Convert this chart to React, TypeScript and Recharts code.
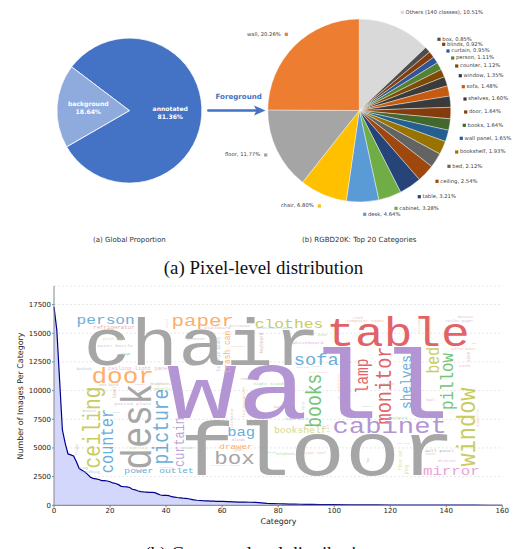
import React from "react";
import { PieChart, Pie, Cell, AreaChart, Area, XAxis, YAxis, CartesianGrid } from "recharts";

const SANS = "'DejaVu Sans', sans-serif";
const MONO = "'Liberation Mono', monospace";
const SERIF = "'Liberation Serif', serif";

// global proportion
const globalNames = ["annotated", "background"];
const globalValues = [81.36, 18.64];
const globalColors = ["#4472c4", "#8faadc"];
const globalLabelPos = [[170.3, 109.5, 117], [88.3, 104.3, 112]];

// top 20 categories, clockwise from 12 o'clock
const catNames = [
    "Others (140 classes)", "box", "blinds", "curtain", "person", "counter", "window", "sofa", "shelves", "door",
    "books", "wall panel", "bookshelf", "bed", "ceiling", "table", "cabinet", "desk", "chair", "floor", "wall",
];
const catValues = [10.51, 0.85, 0.92, 0.95, 1.11, 1.12, 1.35, 1.48, 1.60, 1.64, 1.64, 1.65, 1.93, 2.12, 2.54, 3.21, 3.28, 4.64, 6.80, 11.77, 20.26];
const catColors = [
    "#d9d9d9", "#4e4e4e", "#843c0c", "#2f5597", "#548235", "#7f4a06", "#3b3b3b", "#c55a11", "#3a3a3a", "#843c0c",
    "#43682b", "#255e91", "#997300", "#636363", "#9e480e", "#264478", "#70ad47", "#5b9bd5", "#ffc000", "#a5a5a5", "#ed7d31",
];
// square x, y for every label; text sits right of it, except the last three which sit left
const catLabelPos = [
    [402.3, 12.3], [439, 39.3], [443.7, 44.3], [448, 51], [452.7, 58], [456.7, 66], [460.3, 75.7], [463.3, 86.7], [465, 99], [465.7, 112],
    [464.3, 125.3], [461.3, 138.3], [456.7, 152], [449, 166.3], [437, 181.3], [419.3, 196.7], [396, 208.3], [364.7, 214.3], [319.3, 206], [265.7, 155], [286.3, 34.3],
];

// images per category, long tail
const rankX = [
    0, 1, 2, 3, 4, 5, 6, 7, 8, 9, 10, 11, 12, 13, 14, 15, 16, 17, 18, 19, 20, 21, 22, 23, 24, 25, 26, 27, 28, 29,
    30, 31, 32, 33, 34, 35, 36, 37, 38, 39, 40, 41, 42, 43, 44, 45, 46, 47, 48, 49, 50, 51, 52, 53, 54, 55, 56, 57, 58, 59,
    60, 62, 64, 66, 68, 70, 72, 74, 76, 78, 80, 82, 84, 86, 88, 90, 92, 95, 98, 100, 105, 110, 115, 120, 125, 130, 135, 140, 145, 150, 155, 160,
];
const imageCounts = [
    17300, 15300, 10900, 6570, 5400, 4480, 4400, 4300, 3800, 3200, 3050, 2900, 2700, 2450, 2350, 2300, 2250, 2150, 2150, 2120,
    2050, 1950, 1900, 1800, 1650, 1620, 1600, 1550, 1400, 1350, 1250, 1200, 1170, 1150, 1130, 1120, 1100, 1000, 900, 870,
    860, 840, 750, 720, 680, 650, 620, 600, 570, 520, 470, 440, 420, 400, 390, 380, 370, 360, 350, 340,
    335, 320, 300, 285, 275, 265, 250, 215, 175, 150, 135, 120, 110, 100, 90, 85, 75, 70, 60, 55, 45, 38, 32, 26, 22, 18, 15, 12, 10, 8, 6, 5,
];
const yTicks = [0, 2500, 5000, 7500, 10000, 12500, 15000, 17500];
const xTicks = [0, 20, 40, 60, 80, 100, 120, 140, 160];

// word cloud: text, x, y, ink length along text, vertical, colour
const GRAY = "#a6a6a6", PURPLE = "#b495d3", RED = "#e26367", BLUE = "#6baed6", ORANGE = "#fdae6b", OLIVE = "#c9cc5f", GREEN = "#74c476", PINK = "#e9a3d6";
const cloudPlacement: [string, number, number, number, boolean, string][] = [
    ["wall", 172, 418, 272, false, PURPLE],
    ["floor", 185, 475, 265, false, GRAY],
    ["chair", 88, 365, 228, false, GRAY],
    ["table", 329, 345.7, 138, false, RED],
    ["desk", 151, 468, 83, true, GRAY],
    ["ceiling", 100, 467, 79, true, OLIVE],
    ["counter", 113, 472, 62, true, BLUE],
    ["picture", 168, 463, 73, true, BLUE],
    ["curtain", 184, 466, 48, true, "#bba3d8"],
    ["person", 77.7, 324, 56, false, BLUE],
    ["paper", 172.7, 325.7, 60, false, ORANGE],
    ["clothes", 256, 328.3, 66, false, OLIVE],
    ["door", 92.7, 382.7, 60, false, ORANGE],
    ["sofa", 294.7, 365, 43.3, false, BLUE],
    ["books", 320.7, 426.7, 52, true, GREEN],
    ["lamp", 368, 393, 34, true, RED],
    ["monitor", 390.7, 423, 75, true, RED],
    ["shelves", 410.7, 408, 52, true, BLUE],
    ["bed", 438.7, 373, 25.6, true, OLIVE],
    ["pillow", 453, 409, 55, true, GREEN],
    ["window", 474.7, 465, 76, true, OLIVE],
    ["cabinet", 334.7, 433.3, 110, false, PURPLE],
    ["mirror", 424, 475, 54.7, false, PINK],
    ["bookshelf", 275, 432.7, 50.7, false, "#d4d68a"],
    ["bag", 227.7, 436, 27, false, BLUE],
    ["drawer", 220, 449, 32, false, ORANGE],
    ["box", 215, 464.3, 39, false, GRAY],
    ["power outlet", 125.7, 473.3, 67, false, BLUE],
    ["trash can", 230, 372.7, 41, true, ORANGE],
    ["ceiling light panel", 109.3, 369.5, 60.7, false, "#e8a8c8"],
    ["refrigerator", 94, 328.7, 40, false, "#e39a9a"],
    ["plush toys", 103.3, 340, 21, false, "#d4d68a"],
    ["water bottle", 98.3, 346.7, 34, false, "#c9b3e0"],
    ["cup", 121, 355, 9, false, "#5fc4d0"],
    ["bathtub", 76.7, 370, 14.3, false, "#8fb5d8"],
    ["towel", 116, 398, 11, true, "#e39a7a"],
    ["hanger", 135, 385, 10, false, "#e0a0c8"],
    ["note board", 99.3, 386, 18.7, false, "#c8a8a8"],
    ["headphones", 150.7, 385, 19.3, false, "#aaaaaa"],
    ["umbrella", 154, 389.5, 16, false, "#c9cc5f"],
    ["potted plant", 115, 405, 36, false, "#c9b3e0"],
    ["bench", 82.7, 412.3, 13, false, "#b5b5b5"],
    ["tray", 113, 412.7, 7, false, "#9fc0dc"],
    ["flower", 78.3, 455, 12, true, "#b5b5b5"],
    ["light bulb", 129, 448.7, 18, false, "#d4d68a"],
    ["speaker", 180.7, 448.7, 13.3, false, "#8fcf90"],
    ["landline", 160, 467.7, 12.7, false, "#b5b5b5"],
    ["projector screen", 211.7, 466, 27.3, false, "#e6b5d8"],
    ["pan", 235, 451, 7, false, "#b5b5b5"],
    ["blinds", 232, 440.7, 13, false, "#bba3d8"],
    ["fire extinguisher", 245, 417, 30, true, "#e8a080"],
    ["dishwasher", 233, 427, 19, true, "#d0b8c8"],
    ["stool", 168, 328, 9, true, "#e6b5d8"],
    ["blackboard", 205, 328.7, 25, false, "#e6a8a8"],
    ["microwave", 230, 327, 20, false, "#c0c0c0"],
    ["printer", 187.7, 340, 17.3, false, "#b5b5b5"],
    ["calendar", 231, 347.3, 14, false, "#f0b890"],
    ["bulletin board", 220, 370, 32, true, "#9fc0dc"],
    ["remote", 240.7, 380, 12, false, "#d0b0c0"],
    ["keyboard", 262.6, 353, 20, true, "#c4a898"],
    ["surveillance camera", 256.7, 329, 35, false, "#8fc8d8"],
    ["oven", 318, 335.7, 9, false, "#a8cf90"],
    ["whiteboard", 293, 344.3, 30, false, "#d8a8d8"],
    ["paper cups", 296, 368.3, 13, false, "#b5b5b5"],
    ["toaster", 312.7, 366.7, 9, false, "#b5b5b5"],
    ["light switch", 308, 373.3, 18.7, false, "#f0b890"],
    ["night stand", 254, 385, 29.3, false, "#8fcf90"],
    ["air conditioner", 340, 400, 27, true, "#f5c8a0"],
    ["laptop", 304, 410, 8, true, "#a8b8c8"],
    ["hat", 274, 407.7, 6, false, "#f0a070"],
    ["clock", 353, 318.7, 10, false, "#e6a8a8"],
    ["computer tower", 347.3, 321.7, 36.7, false, "#f0b890"],
    ["ottoman", 419.7, 333, 13, true, "#d4d68a"],
    ["television", 431.3, 338, 21, true, "#d4d68a"],
    ["mouse", 458, 318.3, 15, false, "#e0b0e0"],
    ["toilet paper", 446, 322.3, 27, false, "#c9b3e0"],
    ["tap", 472.3, 344, 4, false, "#c0a890"],
    ["coffee maker", 451.3, 350, 24, false, "#f0b890"],
    ["vase", 470.3, 361.7, 9.4, true, "#e6a8a8"],
    ["sink", 458.7, 367.3, 11.6, false, "#e6a8d8"],
    ["socket", 380, 385, 14, false, "#8fcf90"],
    ["bottle", 362, 406.7, 10.3, false, "#b5b5b5"],
    ["bowl", 426.3, 401, 8.4, false, "#e6a8d8"],
    ["backpack", 389.3, 419, 18, false, "#8fcf90"],
    ["liquor bottle", 285, 420, 23.3, false, "#8fb5d8"],
    ["plate", 329, 432, 7, true, "#c0c0c0"],
    ["dumbbells", 479, 426.7, 17.4, true, "#f0c0a8"],
    ["hot pot", 396.7, 444.3, 12.3, false, "#e6a8d8"],
    ["wall panel", 425.7, 451.7, 27.6, false, "#b09a90"],
    ["shoes", 425.7, 455, 10, false, "#f0b890"],
    ["dresser", 438.3, 461.7, 18.4, false, "#e6a8d8"],
    ["floor mat", 402.3, 470, 20, true, "#d4d68a"],
    ["plug", 408.3, 474, 9, true, "#d4d68a"],
    ["fan", 369, 463, 5, true, "#b5b5b5"],
    ["paper towel", 306, 454.3, 19.7, false, "#f0b890"],
    ["telephone", 276, 455, 18, false, "#8fcf90"],
    ["stand", 267.7, 453.3, 8.3, false, "#7fd0c8"],
    ["handbag", 79.3, 473, 20, false, "#a8c8e8"],
    ["rug", 79, 469, 9, false, "#b5b5b5"],
];
const STRETCH = 1.2;

const globalData = globalNames.map((name, i) => ({ name, value: globalValues[i] }));
const catData = catNames.map((name, i) => ({ name, value: catValues[i] }));
const rankData = rankX.map((rank, i) => ({ rank, count: imageCounts[i] }));

const pct = (v: number) => v.toFixed(2) + "%";

function GlobalLabel(props: any) {
    const { index, name, value } = props;
    const [x, y1, y2] = globalLabelPos[index];
    return <g fontFamily={SANS} fontSize={6.1} fontWeight="bold" fill="#fff" textAnchor="middle">
        <text x={x} y={y1} dominantBaseline="middle">{name}</text>
        <text x={x} y={y2} dominantBaseline="middle">{pct(value)}</text>
    </g>;
}

function CatLabel(props: any) {
    const { index, name, value } = props;
    const [x, y] = catLabelPos[index];
    const onLeft = index >= catNames.length - 3;
    return <g fontFamily={SANS} fontSize={5.25} fill="#404040">
        <rect x={x - 1.6} y={y - 1.6} width={3.2} height={3.2} fill={catColors[index]} />
        <text x={onLeft ? x - 5.5 : x + 3.3} y={y} dominantBaseline="middle" textAnchor={onLeft ? "end" : "start"}>
            {name}, {pct(value)}
        </text>
    </g>;
}

function WordCloud() {
    return <g fontFamily={MONO}>
        {cloudPlacement.map(([word, x, y, ink, vertical, color]) => {
            // ink lengths were measured, the font's cells run a little wider
            const len = ink * 1.04;
            const pad = ink * 0.02;
            const adv = word.length * 0.6;
            const size = vertical ? len / adv : len / (adv * STRETCH);
            const t = vertical
                ? `translate(${x},${y + pad}) scale(${STRETCH},1) rotate(-90)`
                : `translate(${x - pad},${y}) scale(${STRETCH},1)`;
            return <text key={word} transform={t} fontSize={size} fill={color}
                opacity={size < 6 ? 0.8 : 1}>{word}</text>;
        })}
    </g>;
}

export default function App() {
    const layer: React.CSSProperties = { position: "absolute", left: 0, top: 0 };
    return <div style={{ position: "fixed", left: 0, top: 0, width: 518, height: 549, overflow: "hidden", background: "#fff" }}>
        <div style={layer}>
            <PieChart width={518} height={280} margin={{ top: 0, right: 0, bottom: 0, left: 0 }}>
                <Pie data={globalData} dataKey="value" nameKey="name" cx={129.4} cy={110.6} outerRadius={72.5}
                    startAngle={142.9} endAngle={-217.1} stroke="#fff" strokeWidth={0.8}
                    label={GlobalLabel} labelLine={false} isAnimationActive={false}>
                    {globalColors.map((c) => <Cell key={c} fill={c} />)}
                </Pie>
            </PieChart>
        </div>
        <div style={layer}>
            <PieChart width={518} height={280} margin={{ top: 0, right: 0, bottom: 0, left: 0 }}>
                <Pie data={catData} dataKey="value" nameKey="name" cx={359.3} cy={110.5} outerRadius={91.5}
                    startAngle={90} endAngle={-270} stroke="#fff" strokeWidth={0.4}
                    label={CatLabel} labelLine={false} isAnimationActive={false}>
                    {catNames.map((n, i) => <Cell key={n} fill={catColors[i]} />)}
                </Pie>
            </PieChart>
        </div>
        <div style={{ ...layer, top: 0 }}>
            <AreaChart width={518} height={549} data={rankData} margin={{ top: 286, right: 15.7, bottom: 23.7, left: 14 }}>
                <CartesianGrid horizontal vertical={false} strokeDasharray="2 2" stroke="#dcdcdc" strokeWidth={0.7} />
                <XAxis dataKey="rank" type="number" domain={[0, 160]} ticks={xTicks} height={20} interval={0}
                    tick={{ fontSize: 7, fill: "#222", fontFamily: SANS }} tickSize={2} tickMargin={1}
                    stroke="#777" />
                <YAxis domain={[0, 19120]} ticks={yTicks} width={40} interval={0} allowDataOverflow
                    tick={{ fontSize: 7, fill: "#222", fontFamily: SANS }} tickSize={2} tickMargin={1}
                    stroke="#888" />
                <Area dataKey="count" type="linear" stroke="#00008b" strokeWidth={1.2} fill="#d3d7fb" fillOpacity={1}
                    dot={false} activeDot={false} isAnimationActive={false} />
            </AreaChart>
        </div>
        <svg width={518} height={549} style={{ ...layer, pointerEvents: "none" }}>
            <WordCloud />
            <text x={21} y={396} transform="rotate(-90 21 396)" fontFamily={SANS} fontSize={7.9} fill="#222" textAnchor="middle" dominantBaseline="middle">Number of Images Per Category</text>
            <text x={278.5} y={522} fontFamily={SANS} fontSize={7.9} fill="#222" textAnchor="middle" dominantBaseline="middle">Category</text>
            <line x1={208.3} y1={110.5} x2={256} y2={110.5} stroke="#4472c4" strokeWidth={2.4} strokeLinecap="round" />
            <path d="M254 105.5 L265.5 110.5 L254 115.5 L256.5 110.5 Z" fill="#4472c4" />
            <text x={215.5} y={98.5} fontFamily={SANS} fontSize={7.1} fontWeight="bold" fill="#4472c4">Foreground</text>
            <text x={129.4} y={240} fontFamily={SANS} fontSize={7} fill="#333" textAnchor="middle" dominantBaseline="middle">(a) Global Proportion</text>
            <text x={359.3} y={240} fontFamily={SANS} fontSize={7.05} fill="#333" textAnchor="middle" dominantBaseline="middle">(b) RGBD20K: Top 20 Categories</text>
            <text x={263.5} y={274} fontFamily={SERIF} fontSize={18.9} fill="#111" textAnchor="middle">(a) Pixel-level distribution</text>
            <text x={260} y={560} fontFamily={SERIF} fontSize={18.9} fill="#111" textAnchor="middle">(b) Category-level distribution</text>
        </svg>
    </div>;
}
